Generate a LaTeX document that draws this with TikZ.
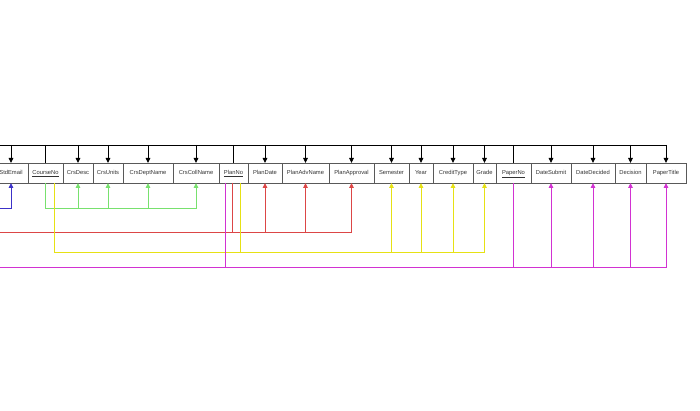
\documentclass[tikz,border=0pt]{standalone}
\usepackage{fontspec}
\setmainfont{Liberation Sans}
\usetikzlibrary{positioning,arrows.meta}
\definecolor{fdblue}{RGB}{60,50,200}
\definecolor{fdgreen}{RGB}{120,225,110}
\definecolor{fdred}{RGB}{220,70,70}
\definecolor{fdyellow}{RGB}{230,225,20}
\definecolor{fdpink}{RGB}{210,50,210}

\begin{document}
\begin{tikzpicture}[x=1pt,y=1pt,
  cell/.style={draw=black!65,line width=0.5pt,minimum height=20pt,inner sep=0pt,outer sep=0pt,
    text height=4.6pt,text depth=1.4pt,font=\fontsize{5.8}{7}\selectfont,text=black!80},
  fd/.style={line width=0.9pt},
  tip/.style={-{Triangle[length=5pt,width=4.6pt]}}]
\useasboundingbox (0,0) rectangle (700,411);
\clip (0,0) rectangle (700,411);
\coordinate (start) at (-6,238);
\foreach \n/\w/\t [remember=\n as \prev (initially start)] in
  {stdemail/34/StdEmail,courseno/35/\underline{CourseNo},crsdesc/30/CrsDesc,crsunits/30/CrsUnits,
   crsdeptname/50/CrsDeptName,crscollname/46/CrsCollName,planno/29/\underline{PlanNo},
   plandate/34/PlanDate,planadvname/47/PlanAdvName,planapproval/45/PlanApproval,
   semester/35/Semester,year/24/Year,credittype/40/CreditType,grade/23/Grade,
   paperno/35/\underline{PaperNo},datesubmit/40/DateSubmit,datedecided/44/DateDecided,
   decision/31/Decision,papertitle/40/PaperTitle}
  \node[cell,minimum width=\w pt,right=0pt of \prev](\n){\t};

\coordinate (topw) at (-10,266);
\coordinate (bluew) at (-10,203);
\coordinate (greeny) at (0,203);
\coordinate (redw) at (-10,179);
\coordinate (yellowy) at (0,159);
\coordinate (pinkw) at (-10,144);

\draw[fd] (topw)--(topw-|papertitle.north);
\foreach \n in {courseno,planno,paperno}
  \draw[fd] (topw-|\n.north)--(\n.north);
\foreach \n in {stdemail,crsdesc,crsunits,crsdeptname,crscollname,plandate,planadvname,planapproval,
  semester,year,credittype,grade,datesubmit,datedecided,decision,papertitle}
  \draw[fd,tip] (topw-|\n.north)--(\n.north);

\draw[fd,fdblue,tip] (bluew)-|(stdemail.south);

\draw[fd,fdgreen,tip] (courseno.south)|-(greeny-|crscollname.south)--(crscollname.south);
\foreach \n in {crsdesc,crsunits,crsdeptname}
  \draw[fd,fdgreen,tip] (greeny-|\n.south)--(\n.south);

\draw[fd,fdred,tip] (redw)-|(planapproval.south);
\draw[fd,fdred] ([xshift=-1.5pt]planno.south)--([xshift=-1.5pt]planno.south|-redw);
\foreach \n in {plandate,planadvname}
  \draw[fd,fdred,tip] (redw-|\n.south)--(\n.south);

\draw[fd,fdyellow,tip] ([xshift=8.5pt]courseno.south)|-(yellowy-|grade.south)--(grade.south);
\draw[fd,fdyellow] ([xshift=6.5pt]planno.south)--([xshift=6.5pt]planno.south|-yellowy);
\foreach \n in {semester,year,credittype}
  \draw[fd,fdyellow,tip] (yellowy-|\n.south)--(\n.south);

\draw[fd,fdpink,tip] (pinkw)-|(papertitle.south);
\draw[fd,fdpink] ([xshift=-8.5pt]planno.south)--([xshift=-8.5pt]planno.south|-pinkw);
\draw[fd,fdpink] (paperno.south)--(paperno.south|-pinkw);
\foreach \n in {datesubmit,datedecided,decision}
  \draw[fd,fdpink,tip] (pinkw-|\n.south)--(\n.south);
\end{tikzpicture}
\end{document}
